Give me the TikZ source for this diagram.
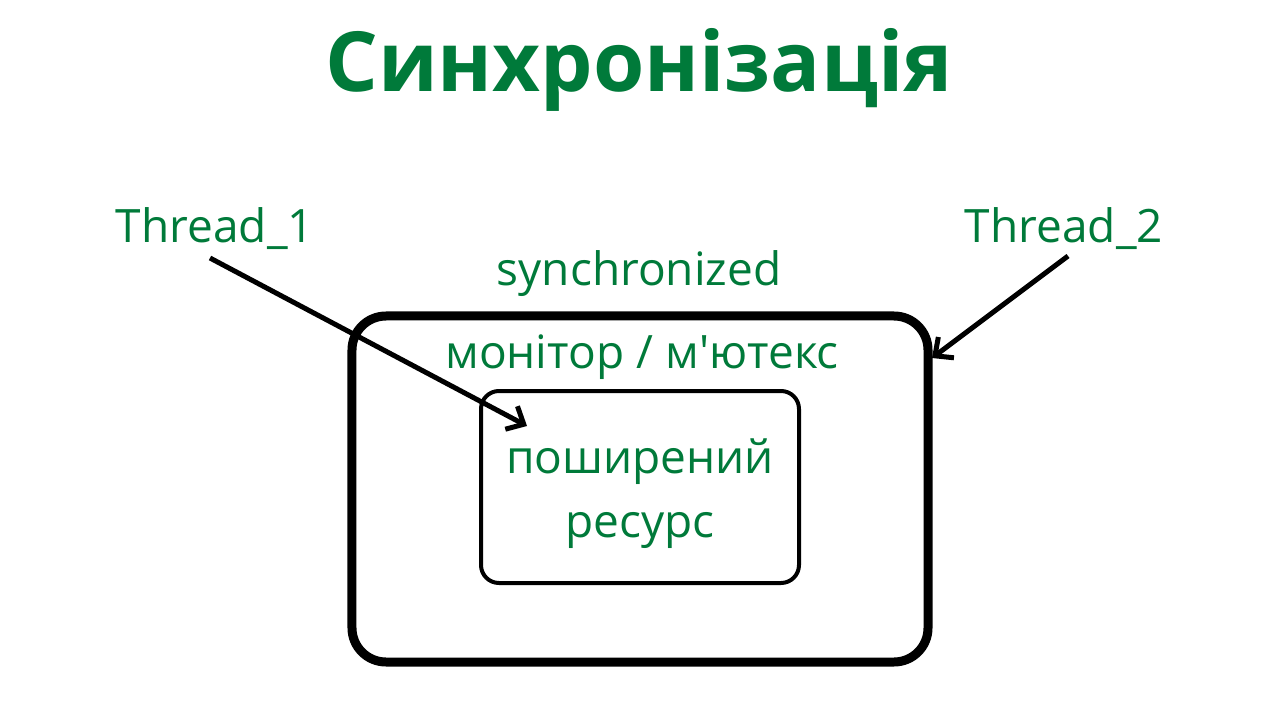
\documentclass[tikz,border=0pt]{standalone}
\usepackage{fontspec}
\setmainfont{Open Sans}[Ligatures=TeXOff]
\usetikzlibrary{arrows.meta}
\definecolor{grn}{HTML}{007A3A}
\tikzset{
  lbl/.style={text=grn, anchor=base, inner sep=0pt, font=\fontsize{46bp}{54bp}\selectfont},
  ttl/.style={text=grn, anchor=base, inner sep=0pt, font=\fontsize{83bp}{100bp}\selectfont\bfseries},
  outerbox/.style={draw=black, line width=9bp, rounded corners=34bp},
  innerbox/.style={draw=black, line width=4bp, rounded corners=18bp},
  arr/.style={draw=black, line width=5bp, -{Straight Barb[length=14bp,width=26bp,line width=5bp]}}
}
\begin{document}
\begin{tikzpicture}[x=1bp,y=-1bp]
\useasboundingbox (0,0) rectangle (1280,720);
\fill[white] (0,0) rectangle (1280,720);
\node[ttl] (title) at (639,92) {Синхронізація};
\node[outerbox, minimum width=576bp, minimum height=346bp, inner sep=0pt] (outer) at (640,489) {};
\node[innerbox, minimum width=318bp, minimum height=192bp, inner sep=0pt] (inner) at (640,487) {};
\node[lbl] (t1) at (215,243) {Thread\_1};
\node[lbl] (t2) at (1064,243) {Thread\_2};
\node[lbl] (sync) at (639,285) {synchronized};
\node[lbl] (mon) at (642,368) {монітор / м'ютекс};
\node[lbl] (res1) at (640,473) {поширений};
\node[lbl] (res2) at (640,537) {ресурс};
\coordinate (a1s) at (210,258);
\coordinate (a1e) at (527,426);
\coordinate (a2s) at (1068,256);
\coordinate (a2e) at (932,358);
\draw[arr] (a1s) -- (a1e);
\draw[arr] (a2s) -- (a2e);
\end{tikzpicture}
\end{document}
